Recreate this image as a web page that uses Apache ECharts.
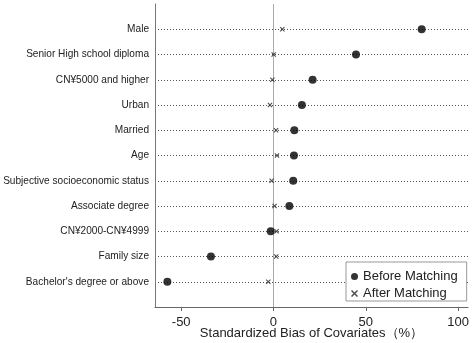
<!DOCTYPE html>
<html>
<head>
<meta charset="utf-8">
<script src="https://cdn.jsdelivr.net/npm/echarts@6/dist/echarts.min.js"></script>
<style>html,body{margin:0;padding:0;background:#fff}#c{width:474px;height:343px}</style>
</head>
<body>
<div id="c"></div>
<script>
const categories = ['Male','Senior High school diploma','CN¥5000 and higher','Urban','Married','Age','Subjective socioeconomic status','Associate degree','CN¥2000-CN¥4999','Family size',"Bachelor's degree or above"];
const beforeMatching = [80.3, 44.7, 21.2, 15.4, 11.3, 11.1, 10.7, 8.6, -1.5, -33.9, -57.5];
const afterMatching = [4.8, 0.1, -0.6, -1.9, 1.4, 1.9, -1.0, 0.6, 1.7, 1.5, -2.8];
const xTicks = [-50, 0, 50, 100];

const crossPath = 'path://M0,1.5L1.5,0L5,3.5L8.5,0L10,1.5L6.5,5L10,8.5L8.5,10L5,6.5L1.5,10L0,8.5L3.5,5Z';
const font = 'Liberation Sans, Arial, sans-serif';
const chart = echarts.init(document.getElementById('c'), null, {renderer: 'canvas'});
chart.setOption({
  animation: false,
  backgroundColor: '#fff',
  textStyle: {fontFamily: font},
  grid: {left: 155, right: 6, top: 4, bottom: 36, containLabel: false, outerBoundsMode: 'none'},
  xAxis: {
    type: 'value', min: -64.2, max: 105.4, position: 'bottom',
    name: 'Standardized Bias of Covariates（%）',
    nameLocation: 'middle', nameGap: 20, nameMoveOverlap: false,
    nameTextStyle: {fontSize: 13, color: '#222', fontFamily: font},
    axisLine: {show: true, onZero: false, lineStyle: {color: '#666', width: 1}},
    axisTick: {show: true, length: 4, customValues: xTicks, lineStyle: {color: '#666'}},
    axisLabel: {customValues: xTicks, fontSize: 13, color: '#222', margin: 9, fontFamily: font},
    splitLine: {show: false}
  },
  yAxis: {
    type: 'value', min: -1, max: 11, interval: 1, inverse: true, position: 'left',
    axisLine: {show: true, onZero: false, lineStyle: {color: '#777', width: 1}},
    axisTick: {show: false},
    axisLabel: {
      fontSize: 10.1, color: '#222', margin: 6, fontFamily: font,
      formatter: v => (categories[v] !== undefined ? categories[v] : '')
    },
    splitLine: {show: true, showMinLine: false, showMaxLine: false,
      lineStyle: {color: '#555', type: [1, 2], width: 1}}
  },
  legend: {
    orient: 'vertical', left: 346, top: 262,
    backgroundColor: '#fff', borderColor: '#999', borderWidth: 1,
    padding: [8, 9, 1, 5], itemGap: 4, itemWidth: 7, itemHeight: 7,
    textStyle: {fontSize: 13, color: '#222', fontFamily: font},
    data: [{name: 'Before Matching', icon: 'circle'}, {name: 'After Matching', icon: crossPath}]
  },
  series: [
    {
      name: 'Before Matching', type: 'scatter', symbol: 'circle', symbolSize: 8,
      itemStyle: {color: '#000'}, z: 5,
      data: beforeMatching.map((v, i) => [v, i]),
      markLine: {
        silent: true, symbol: 'none', label: {show: false},
        lineStyle: {color: '#aaa', type: 'solid', width: 1},
        data: [{xAxis: 0}]
      }
    },
    {
      name: 'After Matching', type: 'scatter', symbol: crossPath, symbolSize: 5,
      itemStyle: {color: '#222'}, z: 6,
      data: afterMatching.map((v, i) => [v, i])
    }
  ]
});
</script>
</body>
</html>
